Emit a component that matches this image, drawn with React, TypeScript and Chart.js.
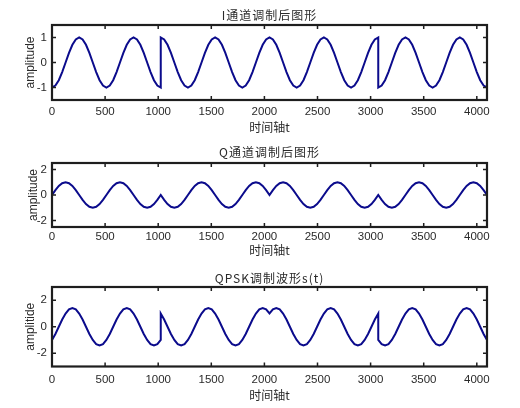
import React, { useEffect, useRef } from 'react';
import { Chart, registerables } from 'chart.js';

Chart.register(...registerables);

// ---- data ----
const symbolStarts = [0, 1024, 2048, 3072];
const symbolLength = 1024;
const sampleStep = 32;
const iSymbols = [-1, 1, 1, -1];
const qSymbols = [1, -1, 1, -1];
// one carrier period (512 samples) read at 16 points
const carrierCos = [1, 0.924, 0.707, 0.383, 0, -0.383, -0.707, -0.924, -1, -0.924, -0.707, -0.383, 0, 0.383, 0.707, 0.924];
const carrierSin = [0, 0.383, 0.707, 0.924, 1, 0.924, 0.707, 0.383, 0, -0.383, -0.707, -0.924, -1, -0.924, -0.707, -0.383];

const xTicks = [0, 500, 1000, 1500, 2000, 2500, 3000, 3500, 4000];
const xMin = 0;
const xMax = 4096;
const yTicksI = [-1, 0, 1];
const yTicksQ = [-2, 0, 2];
const yTicksS = [-2, 0, 2];
const titles = ['I通道调制后图形', 'Q通道调制后图形', 'QPSK调制波形s(t)'];
const yLabels = ['amplitude', 'amplitude', 'amplitide'];
const xLabel = '时间轴t';

type Pt = { x: number; y: number };

function buildSeries(kind: 'i' | 'q' | 's'): Pt[] {
  const pts: Pt[] = [];
  const perSymbol = symbolLength / sampleStep;
  symbolStarts.forEach((start, k) => {
    for (let j = 0; j <= perSymbol; j++) {
      const idx = j % carrierCos.length;
      const iv = iSymbols[k] * carrierCos[idx];
      const qv = qSymbols[k] * carrierSin[idx];
      const y = kind === 'i' ? iv : kind === 'q' ? qv : iv + qv;
      pts.push({ x: start + j * sampleStep, y: Math.round(y * 1000) / 1000 });
    }
  });
  return pts;
}

const LINE_COLOR = '#0b0b8c';
const AXIS_COLOR = '#1e1e1e';
const TEXT_COLOR = '#2a2a2a';

type Spec = {
  top: number;
  height: number;
  padTop: number;
  xAxisH: number;
  xLabelPad: number;
  titleY: number;
  xLabelY: number;
  yLabelX: number;
  yMin: number;
  yMax: number;
  yTicks: number[];
  title: string;
  yLabel: string;
  data: Pt[];
};

const specs: Spec[] = [
  { top: 0, height: 136, padTop: 25, xAxisH: 36, xLabelPad: 5, titleY: 15, xLabelY: 127.5, yLabelX: 30.5, yMin: -1.5, yMax: 1.5, yTicks: yTicksI, title: titles[0], yLabel: yLabels[0], data: buildSeries('i') },
  { top: 136, height: 126, padTop: 27, xAxisH: 35, xLabelPad: 3, titleY: 16.5, xLabelY: 114, yLabelX: 33.5, yMin: -2.5, yMax: 2.5, yTicks: yTicksQ, title: titles[1], yLabel: yLabels[1], data: buildSeries('q') },
  { top: 262, height: 146, padTop: 25, xAxisH: 41.5, xLabelPad: 6, titleY: 16.5, xLabelY: 133, yLabelX: 30.5, yMin: -3, yMax: 3, yTicks: yTicksS, title: titles[2], yLabel: yLabels[2], data: buildSeries('s') },
];

function makePlugin(spec: Spec) {
  return {
    id: 'matlabAxes',
    afterDraw(chart: any) {
      const { ctx, chartArea } = chart;
      const { left, right, top, bottom } = chartArea;
      const xs = chart.scales.x;
      const ys = chart.scales.y;
      ctx.save();
      // inward ticks
      ctx.strokeStyle = AXIS_COLOR;
      ctx.lineWidth = 1.5;
      const tl = 4;
      ctx.beginPath();
      xTicks.forEach((v) => {
        const p = xs.getPixelForValue(v);
        ctx.moveTo(p, bottom);
        ctx.lineTo(p, bottom - tl);
        ctx.moveTo(p, top);
        ctx.lineTo(p, top + tl);
      });
      spec.yTicks.forEach((v) => {
        const p = ys.getPixelForValue(v);
        ctx.moveTo(left, p);
        ctx.lineTo(left + tl, p);
        ctx.moveTo(right, p);
        ctx.lineTo(right - tl, p);
      });
      ctx.stroke();
      // box
      ctx.lineWidth = 2.2;
      ctx.strokeRect(left, top, right - left, bottom - top);
      // title
      ctx.fillStyle = TEXT_COLOR;
      ctx.textAlign = 'center';
      ctx.textBaseline = 'middle';
      ctx.font = '12px "Noto Sans CJK SC", "Liberation Sans", sans-serif';
      try { (ctx as any).letterSpacing = '1px'; } catch (e) {}
      ctx.fillText(spec.title, (left + right) / 2, spec.titleY);
      try { (ctx as any).letterSpacing = '0px'; } catch (e) {}
      // x label
      ctx.font = '12px "Noto Sans CJK SC", "Liberation Sans", sans-serif';
      ctx.fillText(xLabel, (left + right) / 2, spec.xLabelY);
      // y label
      ctx.translate(spec.yLabelX, (top + bottom) / 2);
      ctx.rotate(-Math.PI / 2);
      ctx.font = '12px "Liberation Sans", Arial, sans-serif';
      ctx.fillText(spec.yLabel, 0, 0);
      ctx.restore();
    },
  };
}

function Subplot({ spec }: { spec: Spec }) {
  const ref = useRef<HTMLCanvasElement>(null);
  useEffect(() => {
    const tickFont = { family: '"Liberation Sans", Arial, sans-serif', size: 11.5 };
    const fmt = (v: any) => String(v);
    const chart = new Chart(ref.current as HTMLCanvasElement, {
      type: 'line',
      data: {
        datasets: [
          {
            data: spec.data,
            borderColor: LINE_COLOR,
            borderWidth: 2,
            pointRadius: 0,
            tension: 0,
            fill: false,
          },
        ],
      },
      options: {
        animation: false,
        responsive: false,
        devicePixelRatio: 1,
        parsing: false,
        normalized: true,
        layout: { padding: { left: 0, right: 33, top: spec.padTop, bottom: 0 } },
        plugins: { legend: { display: false }, tooltip: { enabled: false }, title: { display: false } },
        scales: {
          x: {
            type: 'linear',
            min: xMin,
            max: xMax,
            grid: { display: false, drawTicks: false },
            border: { display: false },
            ticks: { font: tickFont, color: TEXT_COLOR, padding: spec.xLabelPad, maxRotation: 0, autoSkip: false, callback: fmt },
            afterBuildTicks: (s: any) => {
              s.ticks = xTicks.map((v) => ({ value: v }));
            },
            afterFit: (s: any) => {
              s.height = spec.xAxisH;
            },
          },
          y: {
            type: 'linear',
            min: spec.yMin,
            max: spec.yMax,
            grid: { display: false, drawTicks: false },
            border: { display: false },
            ticks: { font: tickFont, color: TEXT_COLOR, padding: 5, autoSkip: false, callback: fmt },
            afterBuildTicks: (s: any) => {
              s.ticks = spec.yTicks.map((v) => ({ value: v }));
            },
            afterFit: (s: any) => {
              s.width = 52;
            },
          },
        },
      } as any,
      plugins: [makePlugin(spec)],
    });
    return () => chart.destroy();
  }, [spec]);
  return (
    <canvas
      ref={ref}
      width={520}
      height={spec.height}
      style={{ position: 'absolute', left: 0, top: spec.top, width: 520, height: spec.height, display: 'block' }}
    />
  );
}

export default function App() {
  return (
    <div style={{ position: 'absolute', left: 0, top: 0, width: 520, height: 408, background: '#ffffff' }}>
      {specs.map((s, i) => (
        <Subplot key={i} spec={s} />
      ))}
    </div>
  );
}
